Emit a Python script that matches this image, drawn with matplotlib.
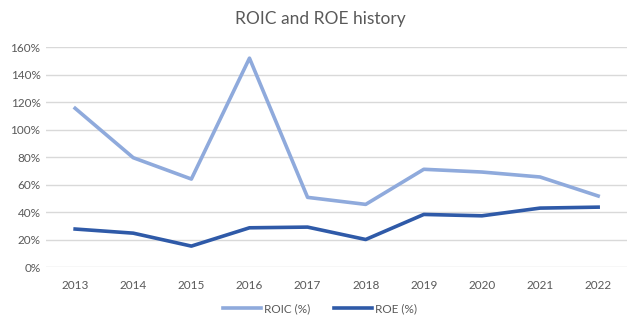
import matplotlib

matplotlib.use("Agg")
import matplotlib.pyplot as plt
from matplotlib.ticker import PercentFormatter

years = ["2013", "2014", "2015", "2016", "2017", "2018", "2019", "2020", "2021", "2022"]
roic = [115.6, 79.7, 64.2, 152.0, 50.9, 45.8, 71.3, 69.3, 65.7, 51.9]
roe = [27.9, 24.9, 15.5, 28.8, 29.3, 20.3, 38.5, 37.5, 43.1, 43.8]

plt.rcParams["font.family"] = ["Lato", "DejaVu Sans"]

fig = plt.figure(figsize=(6.4, 3.23), dpi=100)
ax = fig.add_axes([0.072, 0.172, 0.908, 0.682])

x = range(len(years))
ax.plot(x, roic, color="#8FAADC", linewidth=2.6, label="ROIC (%)", solid_joinstyle="round")
ax.plot(x, roe, color="#2F5AA8", linewidth=2.6, label="ROE (%)", solid_joinstyle="round")

ax.set_xlim(-0.5, len(years) - 0.5)
ax.set_ylim(0, 160)
ax.set_yticks(range(0, 161, 20))
ax.yaxis.set_major_formatter(PercentFormatter(decimals=0))
ax.set_xticks(list(x))
ax.set_xticklabels(years)
ax.grid(axis="y", color="#D9D9D9", linewidth=1)
ax.set_axisbelow(True)
for side in ["top", "right", "left", "bottom"]:
    ax.spines[side].set_visible(False)
ax.tick_params(length=0, labelsize=8.5, colors="#595959")
ax.tick_params(axis="x", pad=9)
ax.tick_params(axis="y", pad=4)

fig.suptitle("ROIC and ROE history", y=0.965, fontsize=12.5, color="#595959")
fig.legend(loc="center", bbox_to_anchor=(0.5, 0.045), ncol=2, frameon=False,
           fontsize=8.5, labelcolor="#595959", handlelength=3.2, columnspacing=2.0,
           handletextpad=0.3)

fig.savefig("out.png", dpi=100)
plt.close(fig)
